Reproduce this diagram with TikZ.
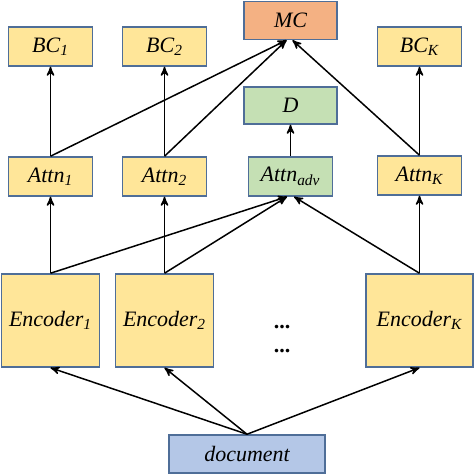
\documentclass[tikz,border=0pt]{standalone}
\usepackage{fontspec}
\newfontfamily\diagfont{Liberation Serif}
\usetikzlibrary{arrows,positioning}

\definecolor{boxline}{HTML}{4F6E98}
\definecolor{yellowbox}{HTML}{FFE699}
\definecolor{orangebox}{HTML}{F4B183}
\definecolor{greenbox}{HTML}{C5E0B4}
\definecolor{bluebox}{HTML}{B4C7E7}

\begin{document}
\begin{tikzpicture}[->,>=stealth',auto,node distance=2.3cm,
                    line width=0.85pt,font=\diagfont\fontsize{12.5}{15}\selectfont\itshape]
  \tikzstyle{block}=[draw=boxline,fill=yellowbox,rectangle,
                     minimum width=1.68cm,minimum height=0.78cm]
  \tikzstyle{encoder}=[block,minimum width=1.96cm,minimum height=1.86cm]

  \useasboundingbox (0,0) rectangle (9.48,9.48);

  \node[encoder]                (E1)  at (1.01,3.07)                     {Encoder\textsubscript{1}};
  \node[encoder]                (E2)  [node distance=2.28cm,right of=E1] {Encoder\textsubscript{2}};
  \node[encoder,minimum width=2.14cm] (EK) [node distance=5.1cm,right of=E2] {Encoder\textsubscript{K}};
  \node[font=\diagfont\fontsize{12.5}{13.6}\selectfont\bfseries,align=center]
                                (dots) [node distance=2.35cm,right of=E2,yshift=-0.37cm] {...\\...};

  \node[block]                  (A1)  [node distance=2.88cm,above of=E1] {Attn\textsubscript{1}};
  \node[block]                  (A2)  [node distance=2.88cm,above of=E2] {Attn\textsubscript{2}};
  \node[block]                  (AK)  [node distance=2.9cm,above of=EK]  {Attn\textsubscript{K}};
  \node[block,fill=greenbox]    (Aadv) [node distance=2.52cm,right of=A2] {Attn\textsubscript{adv}};

  \node[block]                  (B1)  [node distance=2.6cm,above of=A1]  {BC\textsubscript{1}};
  \node[block]                  (B2)  [node distance=2.6cm,above of=A2]  {BC\textsubscript{2}};
  \node[block]                  (BK)  [node distance=2.58cm,above of=AK] {BC\textsubscript{K}};
  \node[block,fill=greenbox,minimum width=1.86cm,minimum height=0.74cm]
                                (D)   [node distance=1.42cm,above of=Aadv] {D};
  \node[block,fill=orangebox,minimum width=1.86cm,minimum height=0.76cm]
                                (MC)  [node distance=1.7cm,above of=D]    {MC};

  \node[block,fill=bluebox,minimum width=3.12cm,minimum height=0.76cm]
                                (doc) [node distance=2.67cm,below of=E2,xshift=1.65cm] {document};

  \path (doc.north) edge (E1.south);
  \path (doc.north) edge (E2.south);
  \path (doc.north) edge (EK.south);

  \path (E1.north) edge (A1.south);
  \path (E2.north) edge (A2.south);
  \path (EK.north) edge (AK.south);
  \path (E1.north) edge ([xshift=-0.07cm]Aadv.south);
  \path (E2.north) edge ([xshift=-0.07cm]Aadv.south);
  \path (EK.north) edge ([xshift=0.07cm]Aadv.south);

  \path (A1.north) edge (B1.south);
  \path (A2.north) edge (B2.south);
  \path (AK.north) edge (BK.south);
  \path (Aadv.north) edge (D.south);
  \path (A1.north) edge ([xshift=-0.08cm]MC.south);
  \path (A2.north) edge ([xshift=-0.08cm]MC.south);
  \path (AK.north) edge ([xshift=0.04cm]MC.south);

\end{tikzpicture}
\end{document}
